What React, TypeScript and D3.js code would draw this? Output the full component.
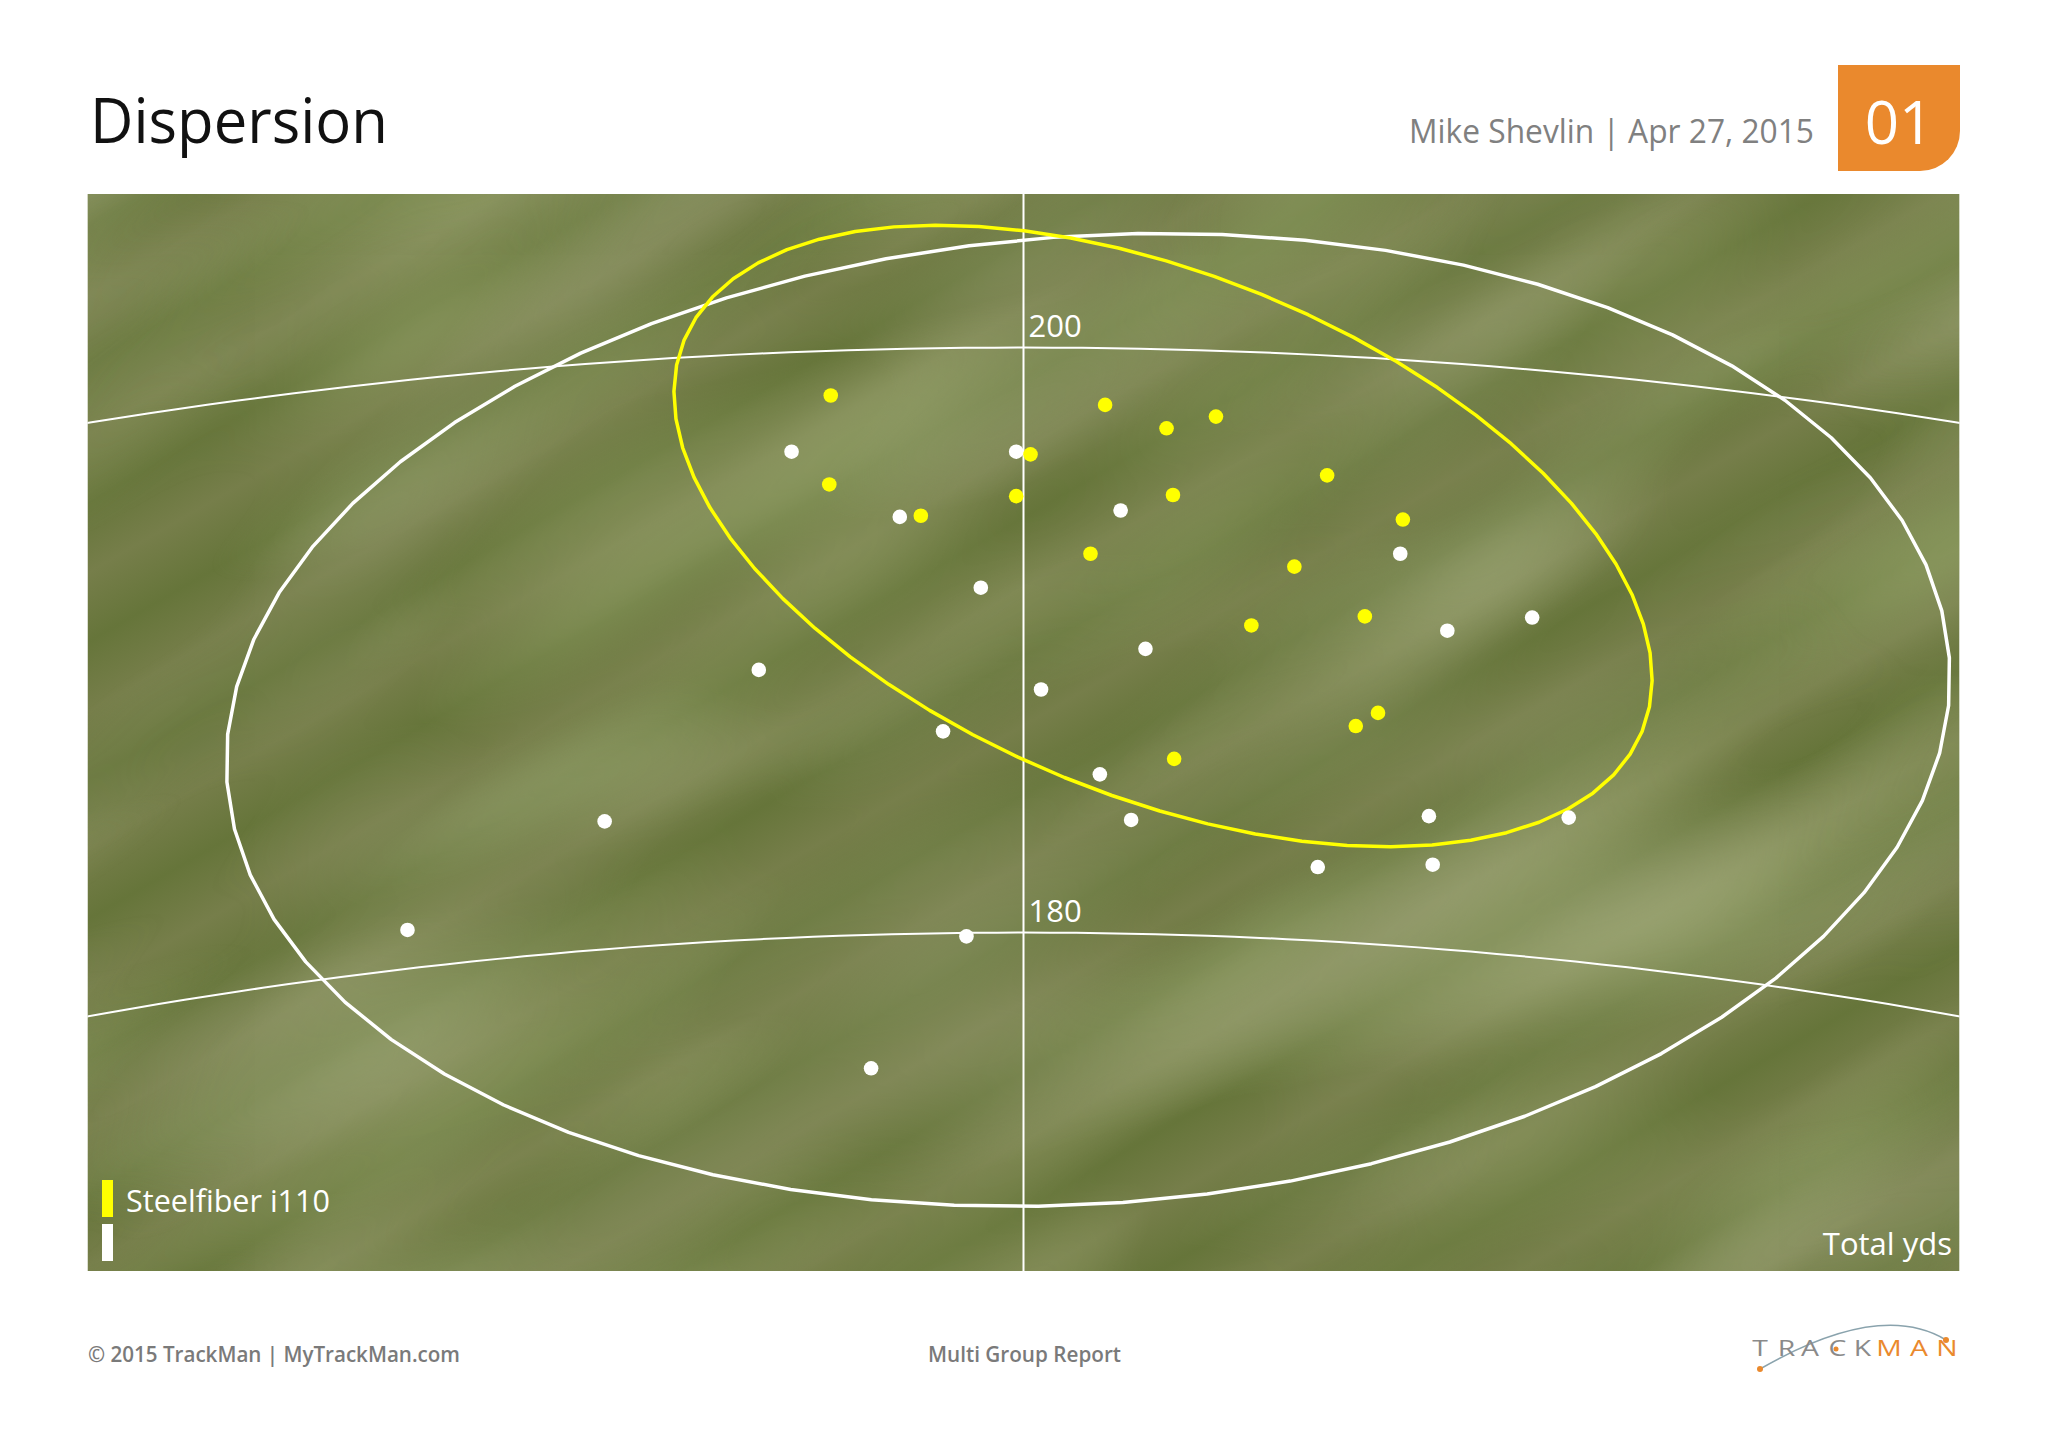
import React from 'react';
import * as d3 from 'd3';

// ---------- data ----------
const sideDomain: [number, number] = [-32, 32];      // lateral yards
const distDomain: [number, number] = [168.43, 205.25]; // total yards

const distanceArcs = [180, 200];

// [side, total] in yards
const steelfiberShots: [number, number][] = [
  [-6.59, 198.36], [-6.64, 195.32], [-3.51, 194.25], [-0.25, 194.92], [0.24, 196.35],
  [2.79, 198.04], [4.89, 197.24], [6.58, 197.64], [5.11, 194.96], [2.29, 192.95],
  [9.26, 192.51], [10.38, 195.63], [12.97, 194.12], [7.79, 190.5], [11.67, 190.81],
  [12.12, 187.51], [11.36, 187.06], [5.15, 185.94],
];

const otherShots: [number, number][] = [
  [-7.93, 196.44], [-0.25, 196.44], [-4.23, 194.21], [3.32, 194.43], [-1.46, 191.79],
  [12.88, 192.95], [-9.05, 188.98], [4.17, 189.7], [0.6, 188.31], [14.49, 190.32],
  [17.39, 190.77], [-2.75, 186.88], [2.61, 185.41], [3.68, 183.85], [13.86, 183.98],
  [18.64, 183.93], [10.06, 182.24], [13.99, 182.32], [-14.32, 183.8], [-21.06, 180.09],
  [-1.95, 179.87], [-5.21, 175.36],
];

// ellipse: [centerSide, centerTotal, semiMajor, semiMinor, angleDeg]
const steelfiberEllipse = [4.77, 193.56, 17.69, 8.92, -22.2];
const otherEllipse = [2.21, 187.27, 29.52, 16.54, 4.12];

const groupNames = ['Steelfiber i110', ''];
const groupColors = ['#ffff00', '#ffffff'];

const logoLetters = ['T', 'R', 'A', 'C', 'K', 'M', 'A', 'N'];
const logoCenters = [1760, 1786.5, 1810, 1837.5, 1862.5, 1889, 1919, 1947];

// ---------- layout ----------
const W = 2048, H = 1448;
const PL = 87.5, PR = 1959.5, PT = 194, PB = 1271;

const x = d3.scaleLinear().domain(sideDomain).range([PL, PR]);
const y = d3.scaleLinear().domain(distDomain).range([PB, PT]);

const FONT = "'Open Sans', 'Noto Sans', sans-serif";

function ellipsePath(e: number[]) {
  const [cx, cy, a, b, deg] = e;
  const th = (deg * Math.PI) / 180;
  const n = 64;
  const pts: [number, number][] = d3.range(n).map(i => {
    const t = (i / n) * 2 * Math.PI;
    const ex = a * Math.cos(t), ey = b * Math.sin(t);
    return [cx + ex * Math.cos(th) - ey * Math.sin(th), cy + ex * Math.sin(th) + ey * Math.cos(th)];
  });
  return d3.line<[number, number]>().x(d => x(d[0])).y(d => y(d[1])).curve(d3.curveLinearClosed)(pts) || '';
}

function arcPath(r: number) {
  const pts = d3.range(-0.25, 0.2501, 0.005).map(phi => [r * Math.sin(phi), r * Math.cos(phi)] as [number, number]);
  return d3.line<[number, number]>().x(d => x(d[0])).y(d => y(d[1]))(pts) || '';
}

export default function App() {
  const stripeAng = (30 * Math.PI) / 180;
  const P = 120;
  return (
    <svg width={W} height={H} style={{ position: 'absolute', left: 0, top: 0, background: '#fff' }}
      xmlns="http://www.w3.org/2000/svg">
      <defs>
        <clipPath id="plotClip">
          <rect x={PL} y={PT} width={PR - PL} height={PB - PT} />
        </clipPath>
        <linearGradient id="stripes" gradientUnits="userSpaceOnUse" spreadMethod="repeat"
          x1={0} y1={0} x2={P * Math.sin(stripeAng)} y2={P * Math.cos(stripeAng)}>
          <stop offset="0" stopColor="#66753a" />
          <stop offset="0.5" stopColor="#767e4a" />
          <stop offset="1" stopColor="#66753a" />
        </linearGradient>
        <filter id="mottleLight" x="0" y="0" width="1" height="1" filterUnits="objectBoundingBox">
          <feTurbulence type="fractalNoise" baseFrequency="0.0018 0.006" numOctaves={2} seed={4} />
          <feColorMatrix type="matrix" values="0 0 0 0 0.49  0 0 0 0 0.51  0 0 0 0 0.33  0 0 0 2.4 -1.0" />
        </filter>
        <filter id="mottleDark" x="0" y="0" width="1" height="1" filterUnits="objectBoundingBox">
          <feTurbulence type="fractalNoise" baseFrequency="0.0018 0.006" numOctaves={2} seed={11} />
          <feColorMatrix type="matrix" values="0 0 0 0 0.38  0 0 0 0 0.45  0 0 0 0 0.20  0 0 0 2.4 -1.0" />
        </filter>
      </defs>

      {/* header */}
      <text x={90} y={143} fontFamily={FONT} fontSize={63} fill="#111"
        textLength={298} lengthAdjust="spacingAndGlyphs">Dispersion</text>
      <text x={1409} y={143} fontFamily={FONT} fontSize={33} fill="#808080"
        textLength={405} lengthAdjust="spacingAndGlyphs">
        Mike Shevlin | Apr 27, 2015
      </text>
      <path d="M1838,65 H1960 V131 A40,40 0 0 1 1920,171 H1838 Z" fill="#ea892d" />
      <text x={1899} y={144} textAnchor="middle" fontFamily={FONT} fontSize={60} fill="#fff">01</text>

      {/* plot background */}
      <g clipPath="url(#plotClip)">
        <rect x={PL} y={PT} width={PR - PL} height={PB - PT} fill="url(#stripes)" />
        <g transform={`rotate(-30 ${(PL + PR) / 2} ${(PT + PB) / 2})`}>
          <rect x={-300} y={-600} width={2700} height={2700} fill="#000" filter="url(#mottleDark)" opacity={0.5} />
          <rect x={-300} y={-600} width={2700} height={2700} fill="#000" filter="url(#mottleLight)" opacity={0.3} />
        </g>

        {/* center line */}
        <line x1={x(0)} x2={x(0)} y1={PT} y2={PB} stroke="#fff" strokeWidth={2} />
        {/* distance arcs */}
        {distanceArcs.map(r => (
          <g key={r}>
            <path d={arcPath(r)} fill="none" stroke="#fff" strokeWidth={2} />
            <text x={x(0) + 5} y={y(r) - 11} fontFamily={FONT} fontSize={31} fill="#fff">{r}</text>
          </g>
        ))}

        {/* ellipses */}
        <path d={ellipsePath(otherEllipse)} fill="none" stroke={groupColors[1]} strokeWidth={3.5} strokeLinejoin="round" />
        <path d={ellipsePath(steelfiberEllipse)} fill="none" stroke={groupColors[0]} strokeWidth={3.5} strokeLinejoin="round" />

        {/* shots */}
        {otherShots.map((d, i) => (
          <circle key={'o' + i} cx={x(d[0])} cy={y(d[1])} r={7.3} fill={groupColors[1]} />
        ))}
        {steelfiberShots.map((d, i) => (
          <circle key={'s' + i} cx={x(d[0])} cy={y(d[1])} r={7.3} fill={groupColors[0]} />
        ))}

        {/* legend */}
        {groupNames.map((name, i) => (
          <g key={i}>
            <rect x={102} y={1180 + i * 44} width={11} height={37} fill={groupColors[i]} />
            {name && <text x={126} y={1212} fontFamily={FONT} fontSize={31} fill="#fff"
              textLength={204} lengthAdjust="spacingAndGlyphs">{name}</text>}
          </g>
        ))}
        <text x={1952} y={1255} textAnchor="end" fontFamily={FONT} fontSize={31} fill="#fff">Total yds</text>
      </g>

      {/* footer */}
      <text x={88} y={1362} fontFamily={FONT} fontSize={21.5} fontWeight={600} fill="#7a7a7a"
        textLength={372} lengthAdjust="spacingAndGlyphs">
        © 2015 TrackMan | MyTrackMan.com
      </text>
      <text x={928} y={1362} fontFamily={FONT} fontSize={21.5} fontWeight={600} fill="#7a7a7a"
        textLength={193} lengthAdjust="spacingAndGlyphs">
        Multi Group Report
      </text>

      {/* logo */}
      <path d="M1760,1369 Q1880,1300 1946,1340" fill="none" stroke="#8aa3ad" strokeWidth={1.5} />
      {logoLetters.map((ch, i) => (
        <text key={i} transform={`translate(${logoCenters[i]},1356) scale(1.35,1)`} textAnchor="middle"
          fontFamily={FONT} fontSize={21} fontWeight={400} fill={i < 5 ? '#8a8a8a' : '#ea892d'}>{ch}</text>
      ))}
      <circle cx={1760} cy={1369} r={3} fill="#ea892d" />
      <circle cx={1946} cy={1340} r={3} fill="#ea892d" />
      <circle cx={1836} cy={1349} r={2.5} fill="#ea892d" />
    </svg>
  );
}
